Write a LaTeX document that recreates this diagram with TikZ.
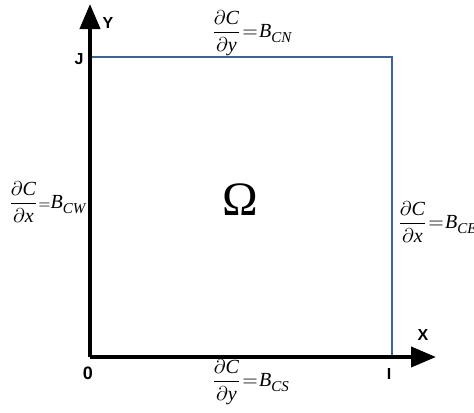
\documentclass[tikz,border=0pt]{standalone}
\usepackage{amsmath}
\usepackage{fontspec}
\setmainfont{Liberation Serif}
\setsansfont{Liberation Sans}
\usetikzlibrary{arrows.meta}
\definecolor{myblue}{RGB}{60,100,150}
\newcommand{\mi}[1]{\textit{#1}}
\newcommand{\bcfrac}[1]{\dfrac{\partial\mi{C}}{\partial\mi{#1}}}
\newcommand{\bcval}[1]{\mi{B}\raisebox{-0.5ex}{\fontsize{7.5}{8}\selectfont\itshape #1}}

\tikzset{
  axis/.style ={line width=2pt, -{Triangle[length=12.5pt, width=10pt]}},
  wall/.style ={line width=0.75pt, color=myblue},
  tag/.style ={inner sep=0, font=\sffamily\bfseries\fontsize{8}{9}\selectfont},
  bc/.style ={inner sep=0, anchor=west, font=\fontsize{10}{12}\selectfont}
}

\begin{document}
\begin{tikzpicture}[x=0.5pt, y=-0.5pt]
\useasboundingbox (0,0) rectangle (474,412);
% corners of the domain
\coordinate (O) at (90,357);
\coordinate (Xtip) at (436,357);
\coordinate (Ytip) at (90,4);
\coordinate (J) at (90,57);
\coordinate (NE) at (392,57);
\coordinate (I) at (392,357);
% boundaries
\draw[wall] (J) -- (NE) -- (I);
\draw[axis] (O) -- (Xtip);
\draw[axis] (O) -- (Ytip);
% axis labels
\node[tag] (y) at (108,23) {Y};
\node[tag] (x) at (423,335) {X};
\node[tag] (j) at (79,59) {J};
\node[tag] (i) at (389,374) {I};
\node[tag, font=\sffamily\bfseries\fontsize{9}{10}\selectfont] (zero) at (88,373) {0};
% boundary conditions
\node[bc] (north) at (211,33) {$\bcfrac{y}\mkern1mu{=}\mkern1mu\bcval{CN}$};
\node[bc] (south) at (211,382) {$\bcfrac{y}\mkern1mu{=}\mkern1mu\bcval{CS}$};
\node[bc] (west) at (8,202) {$\bcfrac{x}{\scriptstyle =}\bcval{CW}$};
\node[bc] (east) at (397,222) {$\bcfrac{x}\mkern1mu{=}\mkern1mu\bcval{CE}$};
\node[inner sep=0, font=\fontsize{24}{26}\selectfont] (omega) at (240,200) {Ω};
\end{tikzpicture}
\end{document}
